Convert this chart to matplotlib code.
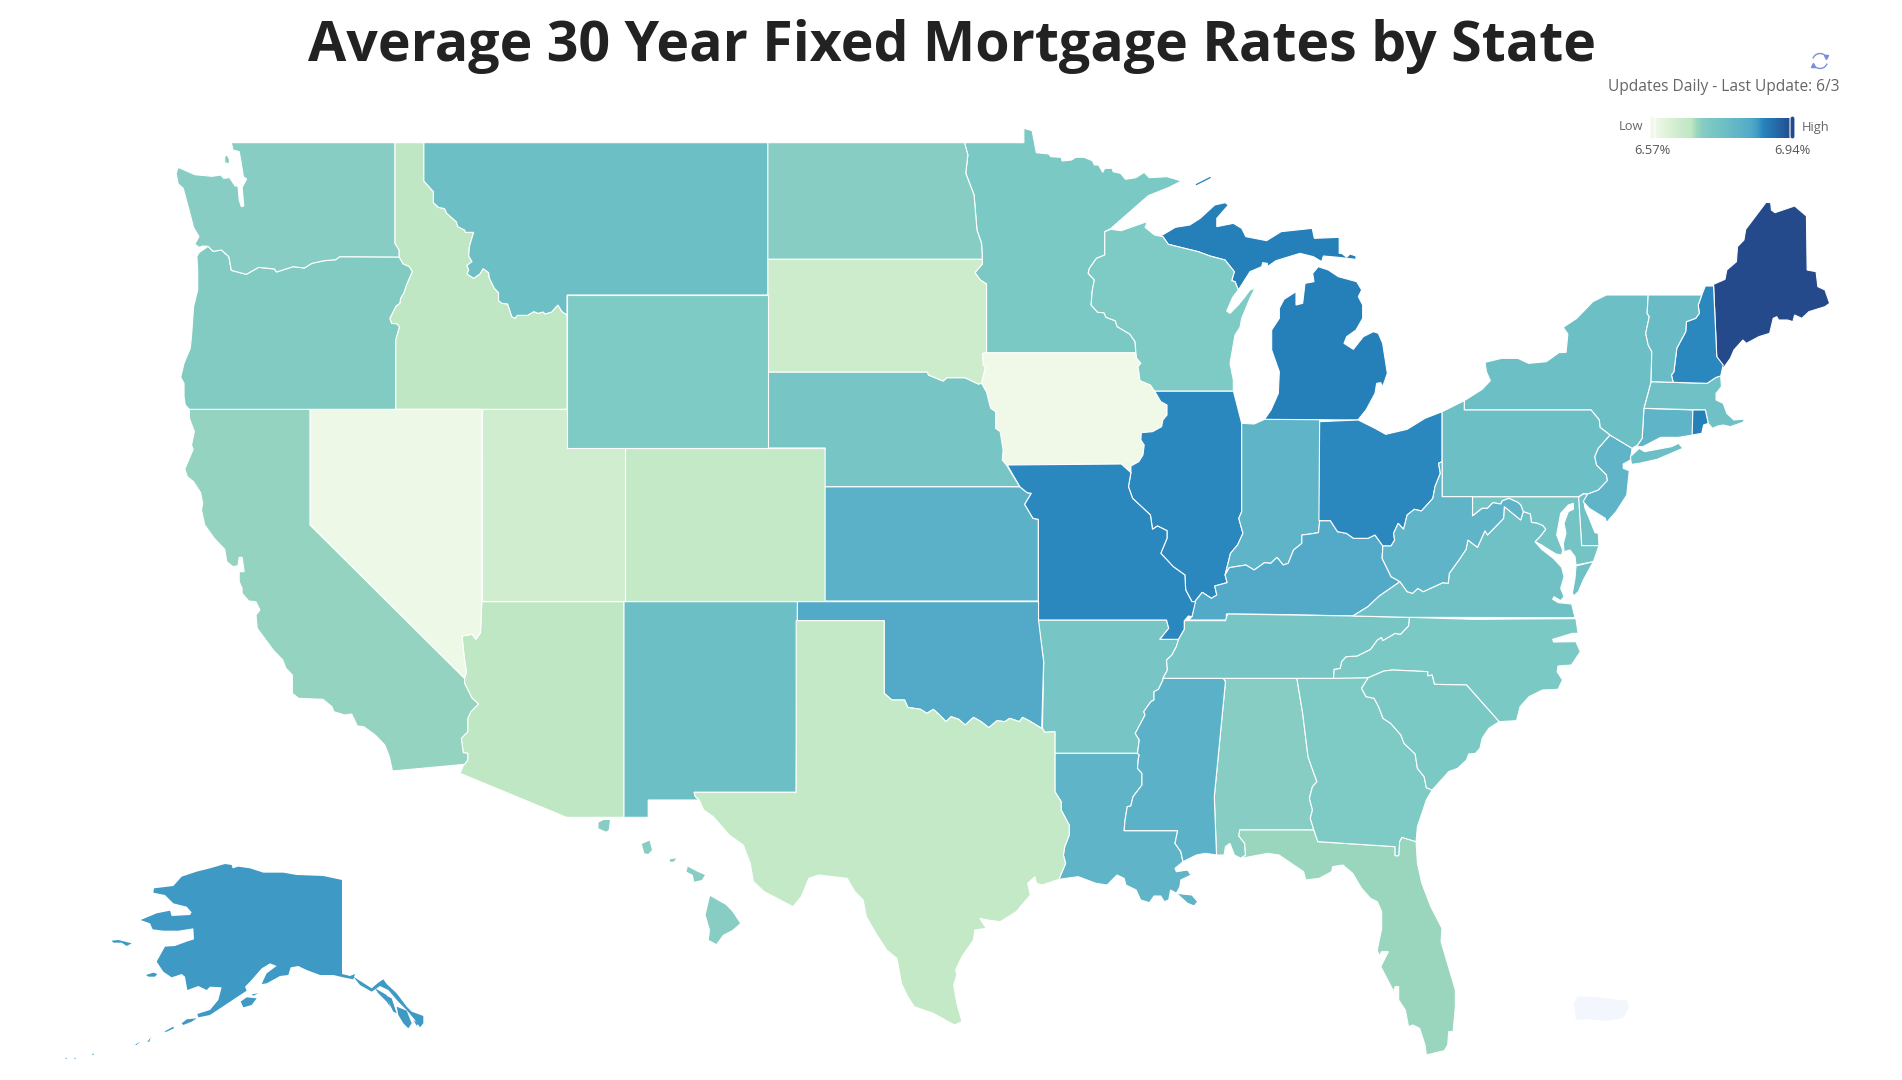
# -*- coding: utf-8 -*-
import numpy as np
import matplotlib
matplotlib.use('Agg')
import matplotlib.pyplot as plt
from matplotlib.colors import LinearSegmentedColormap, Normalize
from matplotlib.patches import Polygon, Arc, FancyBboxPatch

plt.rcParams['font.family'] = ['Open Sans', 'Noto Sans', 'DejaVu Sans']


def crop(x0, y0, sx, sy=3.0):
    return lambda pts: [(x0 + x / sx, y0 + y / sy) for x, y in pts]


A = crop(150, 110, 2.41)
B = crop(750, 110, 2.41)
C = crop(1300, 190, 2.8)
D = crop(1000, 600, 2.24)
E = crop(50, 600, 1.568)
F = crop(50, 860, 3.0)
G = crop(1540, 480, 3.0)
H = crop(1190, 240, 3.0)

state_names = ['AK', 'AL', 'AR', 'AZ', 'CA', 'CO', 'CT', 'DE', 'FL', 'GA', 'HI', 'IA', 'ID', 'IL', 'IN', 'KS', 'KY',
               'LA', 'MA', 'MD', 'ME', 'MI', 'MN', 'MO', 'MS', 'MT', 'NC', 'ND', 'NE', 'NH', 'NJ', 'NM', 'NV', 'NY',
               'OH', 'OK', 'OR', 'PA', 'RI', 'SC', 'SD', 'TN', 'TX', 'UT', 'VA', 'VT', 'WA', 'WI', 'WV', 'WY']
state_rates = [6.85, 6.70, 6.73, 6.67, 6.69, 6.66, 6.80, 6.75, 6.685, 6.715, 6.70, 6.57, 6.67, 6.86, 6.80, 6.81, 6.83,
               6.80, 6.75, 6.74, 6.94, 6.87, 6.72, 6.86, 6.81, 6.76, 6.72, 6.70, 6.73, 6.86, 6.80, 6.76, 6.575, 6.76,
               6.86, 6.83, 6.71, 6.76, 6.87, 6.72, 6.64, 6.73, 6.66, 6.63, 6.75, 6.77, 6.70, 6.715, 6.80, 6.715]

rate_stops = [6.57, 6.63, 6.67, 6.685, 6.70, 6.72, 6.76, 6.81, 6.83, 6.85, 6.86, 6.87, 6.94]
stop_colors = ['#f0f9e8', '#d0edcf', '#bfe7c4', '#9ad6be', '#88cdc3', '#7bc9c4', '#6dbfc6', '#5bb1c8', '#52aac8',
               '#3e9ac4', '#2b88bf', '#2580ba', '#254a8c']
rate_min = 6.57
rate_max = 6.94

title_text = 'Average 30 Year Fixed Mortgage Rates by State'
update_text = 'Updates Daily - Last Update: 6/3'
legend_low = 'Low'
legend_high = 'High'
legend_min_label = '6.57%'
legend_max_label = '6.94%'

# shared borders
wa_or = A([(600, 441), (457, 440), (448, 449), (420, 452), (390, 460), (372, 474), (345, 470), (305, 486), (300, 477),
           (262, 472), (232, 493), (196, 481), (190, 440), (172, 420), (152, 424), (140, 409)])
or_id = A([(600, 441), (610, 462), (625, 470), (632, 485), (618, 525), (612, 548), (604, 565), (602, 580), (593, 588),
           (578, 625), (582, 640), (595, 642), (601, 650), (592, 690), (592, 898)])
id_mt = A([(660, 98), (660, 213), (683, 245), (683, 278), (695, 292), (710, 296), (715, 310), (738, 335), (742, 350),
           (758, 360), (760, 367), (780, 367), (770, 408), (768, 438), (776, 455), (764, 466), (768, 480), (764, 492),
           (780, 505), (795, 492), (803, 476), (816, 488), (818, 505), (830, 535), (840, 548), (840, 572), (848, 580),
           (862, 582), (872, 620), (880, 625), (885, 616), (910, 616), (925, 605), (935, 610), (948, 606), (952, 612),
           (968, 606), (983, 585), (993, 605), (1005, 615)])
az_ca = E([(650, 235), (650, 250), (662, 295), (672, 312), (660, 335), (655, 355), (655, 395), (645, 415), (648, 458),
           (655, 460), (655, 480), (650, 493)])
nv_az = E([(677, 5), (675, 98), (668, 118), (662, 103), (646, 108), (650, 180), (653, 215), (650, 235)])
red_river = E([(1308, 280), (1320, 300), (1340, 300), (1345, 322), (1365, 328), (1375, 340), (1385, 328), (1395, 345),
               (1405, 365), (1413, 350), (1425, 358), (1435, 375), (1448, 352), (1460, 365), (1472, 383), (1485, 362),
               (1497, 365), (1505, 355), (1520, 365), (1525, 352), (1535, 362), (1555, 385)])
sd_mn = B([(560, 448), (560, 462), (542, 488), (555, 510), (570, 522), (570, 728)])
nd_mn = B([(517, 98), (525, 135), (520, 190), (540, 255), (547, 360), (558, 400), (560, 448)])
sd_ia = B([(570, 728), (560, 730), (562, 765), (567, 772), (558, 820)])
ne_ia = B([(558, 820), (570, 846), (580, 895), (592, 905), (592, 955), (603, 965), (610, 1020), (608, 1050), (618, 1065)])
sd_ne = B([(558, 820), (550, 822), (518, 803), (475, 803), (465, 813), (430, 795), (428, 786)])
mn_wi = B([(855, 365), (855, 435), (835, 445), (818, 475), (815, 490), (830, 510), (825, 540), (822, 585), (838, 607),
           (853, 608), (858, 622), (880, 632), (885, 650), (915, 672), (928, 695), (930, 728)])
ia_wi = B([(930, 728), (932, 745), (942, 760), (935, 770), (940, 812), (965, 825), (975, 843)])
ia_il = B([(975, 843), (990, 875), (1005, 885), (1005, 915), (995, 930), (992, 950), (970, 965), (943, 968), (942, 990),
           (950, 1005), (947, 1035), (937, 1055), (918, 1068), (918, 1088)])
mo_il = B([(918, 1088), (912, 1130), (922, 1165), (965, 1215), (970, 1258), (982, 1248), (1005, 1262), (1005, 1285),
           (990, 1330), (1020, 1370), (1048, 1395), (1050, 1440), (1065, 1475), (1072, 1475)])
il_in = B([(1185, 940), (1185, 1205), (1178, 1225), (1188, 1270), (1175, 1305), (1158, 1330), (1145, 1395)])
il_ky = B([(1145, 1395), (1150, 1418), (1120, 1428), (1125, 1455), (1112, 1465), (1090, 1447), (1072, 1475)])
in_ky = B([(1373, 1232), (1370, 1268), (1350, 1272), (1330, 1275), (1330, 1300), (1310, 1320), (1297, 1360),
           (1285, 1365), (1270, 1342), (1255, 1360), (1240, 1358), (1215, 1380), (1195, 1365), (1155, 1373), (1145, 1395)])
wi_up = B([(995, 380), (1008, 403), (1080, 425)]) + H([(60, 48), (105, 60), (133, 95), (125, 122), (135, 125), (145, 150)])
oh_ky = C([(232, 1068), (210, 1035), (190, 1045), (150, 1045), (130, 1030), (105, 1025), (85, 992), (53, 992)])
oh_wv = C([(232, 1068), (255, 1068), (265, 1050), (262, 1030), (275, 1000), (290, 1018), (300, 975), (320, 958),
           (340, 963), (372, 925), (378, 890), (393, 850), (388, 820), (398, 815)])
ky_wv = C([(232, 1068), (230, 1105), (255, 1160), (280, 1175)])
ky_va = C([(280, 1175), (222, 1218), (190, 1250), (148, 1278)])
va_wv = C([(280, 1175), (300, 1205), (315, 1210), (330, 1195), (345, 1205), (400, 1178), (415, 1180), (418, 1150),
           (445, 1110), (465, 1078), (470, 1050), (497, 1072), (518, 1022), (525, 1035), (570, 985), (572, 950),
           (618, 990), (625, 965)])
md_wv = C([(483, 978), (510, 955), (525, 955), (540, 938), (562, 942), (567, 932), (585, 925), (610, 937), (618, 945),
           (625, 965)])
md_va = C([(625, 965), (645, 972), (648, 997), (665, 1000), (680, 1007), (688, 1018), (672, 1040), (658, 1055)])
pa_nj = C([(868, 735), (835, 775), (825, 800), (830, 825), (858, 855), (860, 872), (835, 900), (805, 912)])
ny_pa = C([(460, 660), (815, 660), (838, 690), (840, 712), (868, 735)])
ny_vt = C([(975, 315), (972, 370), (978, 380), (968, 430), (975, 465), (985, 485), (983, 575)])
vt_nh = C([(1125, 315), (1115, 345), (1118, 370), (1108, 385), (1082, 395), (1080, 425), (1055, 475), (1047, 545),
           (1040, 555), (1045, 577)])
nh_ma = C([(1045, 577), (1140, 580), (1165, 562), (1178, 558)])
tn_nc = D([(917, 52), (915, 78), (897, 103), (885, 100), (857, 122), (855, 112), (845, 120), (830, 148), (800, 168),
           (775, 170), (765, 185), (762, 205), (748, 208), (747, 235)])
nc_sc = D([(825, 233), (860, 213), (880, 210), (958, 215), (958, 228), (968, 225), (973, 253), (1045, 255), (1118, 365)])
ga_sc = D([(825, 233), (810, 265), (820, 290), (838, 295), (848, 320), (858, 355), (875, 370), (898, 405), (905, 430),
           (930, 462), (935, 505), (950, 530), (955, 563), (968, 570)])
al_ga = D([(665, 235), (678, 340), (690, 470), (703, 520), (710, 545), (700, 560), (693, 595), (700, 630), (695, 655),
           (703, 690)])
fl_ga = D([(703, 690), (712, 725), (885, 740), (885, 767), (893, 767), (895, 725), (900, 712), (932, 725)])
al_fl = D([(703, 690), (537, 690), (535, 708), (548, 730), (550, 765), (540, 775)])
mo_ar = D([(438, 5), (430, 50), (422, 48), (413, 62), (413, 88), (400, 118), (358, 118), (378, 85), (373, 60), (85, 60)])
ar_tn = D([(400, 118), (395, 140), (385, 165), (373, 180), (375, 210), (365, 235)])
ar_ms = D([(365, 235), (365, 240), (355, 268), (345, 275), (345, 300), (338, 305), (322, 335), (325, 345), (303, 400),
           (312, 420), (308, 460)])
la_ms = D([(308, 460), (312, 465), (310, 475), (308, 505), (318, 520), (318, 555), (298, 590), (293, 618), (285, 620),
           (280, 662), (278, 692), (398, 692), (392, 730), (405, 755), (410, 785)])
tx_la = D([(123, 460), (123, 575), (137, 605), (137, 630), (155, 675), (155, 705), (145, 740), (142, 765), (147, 790),
           (132, 838)])
ks_mo = B([(620, 1065), (650, 1130), (668, 1148), (678, 1150), (662, 1183), (682, 1225), (695, 1228), (695, 1473)])

state_outlines = {
    'WA': [wa_or + A([(128, 408), (118, 412), (108, 402), (118, 380), (105, 352), (92, 290), (80, 235), (68, 222),
                      (63, 190), (68, 172), (108, 194), (150, 199), (170, 195), (178, 205), (192, 203), (205, 228),
                      (212, 228), (215, 270), (220, 290), (226, 288), (222, 232), (233, 207), (225, 200), (220, 160),
                      (215, 125), (200, 120), (196, 98), (590, 98), (590, 400), (600, 420)]),
           A([(180, 140), (186, 134), (192, 150), (190, 162), (180, 158)])],
    'OR': [wa_or + A([(118, 428), (113, 440), (115, 480), (115, 540), (105, 590), (100, 680), (97, 715), (82, 760),
                      (74, 802), (82, 820), (82, 860), (85, 885), (95, 898)]) + or_id[::-1]],
    'ID': [id_mt + A([(1005, 898), (592, 898)]) + or_id[::-1][1:] + A([(600, 420), (590, 400), (590, 98)])],
    'MT': [A([(660, 98), (1490, 98), (1490, 555), (1005, 555)]) + id_mt[::-1]],
    'WY': [A([(1005, 555), (1490, 555), (1490, 1014), (1005, 1014)])],
    'UT': [A([(800, 898), (1005, 898), (1005, 1014), (1145, 1014), (1145, 1473), (800, 1473)])],
    'CO': [A([(1145, 1014), (1490, 1014)]) + B([(181, 1014), (181, 1473)]) + A([(1145, 1473)])],
    'NV': [A([(386, 898), (800, 898)]) + nv_az + A([(386, 1245)])],
    'CA': [A([(95, 898), (95, 925), (107, 965), (100, 1005), (104, 1018), (84, 1077), (90, 1100), (105, 1115),
              (122, 1148), (127, 1180), (124, 1200), (132, 1245), (155, 1285), (180, 1318), (185, 1355), (200, 1370),
              (212, 1367), (215, 1342), (222, 1342), (227, 1385), (215, 1385), (215, 1415), (222, 1435), (222, 1450),
              (238, 1473), (255, 1475), (265, 1500)])
           + E([(323, 45), (325, 85), (350, 150), (365, 180), (370, 205), (380, 225), (380, 280), (390, 295),
                (428, 298), (442, 320), (445, 335), (462, 345), (473, 342), (482, 378), (492, 380), (510, 405),
                (525, 435), (532, 470), (537, 513)])
           + az_ca[::-1] + A([(386, 1245), (386, 898), (592, 898)])],
    'AZ': [E([(677, 5), (900, 5), (900, 652), (810, 652), (643, 520), (648, 497)]) + az_ca[::-1] + nv_az[::-1][1:]],
    'NM': [E([(900, 5), (1172, 5), (1170, 577), (1010, 577), (1012, 590), (1018, 600), (938, 600), (938, 652), (900, 652)])],
    'TX': [E([(1170, 62), (1308, 62)]) + red_river
           + D([(95, 385), (100, 397), (123, 395)]) + tx_la
           + D([(95, 855), (82, 850), (78, 830), (62, 850), (68, 885)])
           + E([(1515, 935), (1490, 965), (1470, 960), (1458, 955), (1468, 985), (1450, 990), (1448, 1020),
                (1430, 1070), (1420, 1110), (1422, 1125), (1417, 1155), (1422, 1210), (1430, 1265), (1418, 1275),
                (1385, 1240), (1355, 1220), (1345, 1190), (1335, 1150), (1328, 1075), (1312, 1050), (1295, 1000),
                (1280, 950), (1275, 900), (1262, 875), (1250, 835), (1205, 825), (1190, 835), (1178, 890), (1165, 920),
                (1150, 905), (1120, 875), (1103, 845), (1098, 790), (1087, 735), (1065, 705), (1040, 650), (1025, 630),
                (1018, 600), (1012, 590), (1010, 577), (1170, 577)])],
    'OK': [E([(1172, 5), (1550, 5), (1550, 60), (1558, 185)]) + red_river[::-1] + E([(1308, 62), (1172, 62)])],
    'KS': [B([(181, 1130), (650, 1130)]) + ks_mo[1:] + B([(181, 1473)])],
    'NE': [B([(43, 786)]) + sd_ne[::-1] + ne_ia[1:] + B([(650, 1130), (181, 1130), (181, 1014), (43, 1014)])],
    'SD': [B([(43, 448)]) + sd_mn + sd_ia[1:] + sd_ne[1:] + B([(43, 786)])],
    'ND': [B([(43, 98)]) + nd_mn + B([(43, 448)])],
    'MN': [B([(517, 98), (660, 98), (660, 55), (680, 62), (690, 128), (720, 132), (725, 140), (750, 142), (752, 153),
              (775, 150), (785, 142), (805, 142), (825, 152), (830, 165), (840, 165), (850, 187), (855, 175), (873, 175),
              (875, 185), (893, 190), (905, 208), (930, 203), (950, 187), (962, 203), (1005, 200), (1040, 213),
              (1010, 232), (960, 257), (925, 295), (870, 355)]) + mn_wi + sd_mn[::-1] + nd_mn[::-1][1:]],
    'WI': [B([(870, 358), (895, 362), (945, 340), (958, 335), (952, 352), (975, 375)]) + wi_up
           + H([(128, 172), (110, 213), (120, 220), (145, 195), (165, 170), (180, 150), (195, 145), (180, 175),
                (155, 235), (150, 262), (135, 285), (120, 370), (130, 420), (130, 453)])
           + ia_wi[::-1] + mn_wi[::-1]],
    'IA': [B([(570, 728)]) + ia_wi + ia_il + B([(895, 1062), (618, 1065)]) + ne_ia[::-1] + sd_ia[::-1][:-1]],
    'MO': [B([(618, 1065), (895, 1062)]) + mo_il + mo_ar + ks_mo[::-1]],
    'IL': [B([(975, 843), (1165, 843)]) + il_in + il_ky + mo_il[::-1] + ia_il[::-1]],
    'IN': [il_in[:1] + B([(1215, 942), (1240, 928), (1373, 928)]) + in_ky + il_in[::-1]],
    'OH': [C([(55, 695), (163, 690), (210, 715), (240, 733), (300, 718), (350, 685), (398, 665)]) + oh_wv[::-1] + oh_ky],
    'MI': [B([(1240, 928), (1465, 930)])
           + H([(528, 510), (555, 460), (560, 430), (572, 428), (578, 440), (592, 400), (578, 310), (565, 280),
                (550, 275), (520, 290), (490, 328), (462, 310), (470, 290), (498, 270), (518, 235), (518, 195),
                (505, 170), (515, 150), (500, 125), (445, 110), (415, 90), (385, 80), (368, 100), (372, 125),
                (345, 130), (338, 190), (318, 195), (318, 155), (282, 178), (268, 205), (268, 235), (245, 270),
                (245, 330), (268, 395), (265, 460), (243, 510)]),
           B([(990, 378), (1025, 352), (1060, 345), (1085, 325), (1120, 285), (1145, 278), (1153, 285), (1125, 325),
              (1125, 350), (1165, 340), (1185, 355), (1195, 380), (1245, 392), (1280, 365), (1355, 355), (1360, 385),
              (1420, 382), (1420, 430)])
           + H([(455, 40), (470, 52), (480, 42), (498, 48), (498, 58), (470, 55), (445, 52), (400, 48), (395, 65),
                (370, 50), (330, 40), (258, 62), (232, 80), (232, 70), (218, 68), (215, 80), (180, 95)])
           + wi_up[::-1],
           B([(1072, 222), (1110, 198), (1112, 205), (1075, 228)])],
    'KY': [oh_ky + in_ky + il_ky[1:] + D([(430, 50), (422, 60), (507, 60), (507, 42), (600, 43), (793, 48)])
           + ky_va[::-1] + ky_wv[::-1]],
    'WV': [oh_wv + C([(398, 920), (483, 920)]) + md_wv + va_wv[::-1] + ky_wv[::-1]],
    'VA': [ky_va + C([(305, 1282), (770, 1283)])
           + G([(95, 372), (55, 368), (38, 358), (42, 350), (62, 362), (72, 350), (62, 325), (72, 290), (65, 262),
                (40, 235), (5, 208)]) + md_va[::-1] + va_wv[::-1],
           G([(108, 258), (160, 245), (130, 300), (115, 335), (102, 347), (97, 340), (105, 295)])],
    'MD': [C([(483, 920), (780, 920)])
           + G([(125, 197), (177, 197), (160, 245), (108, 255), (105, 230), (90, 210), (72, 215), (70, 190), (78, 160),
                (72, 130), (85, 95), (100, 88), (100, 70), (85, 75), (62, 100), (50, 165), (68, 210), (65, 225),
                (48, 222), (20, 205), (5, 195)]) + md_va[::-1] + md_wv[::-1]],
    'DE': [G([(115, 52), (130, 42), (148, 42), (132, 65), (135, 85), (150, 120), (165, 158), (175, 160), (177, 197), (125, 197)])],
    'NJ': [pa_nj + C([(793, 935), (810, 955), (855, 985), (858, 998), (885, 965), (915, 915), (922, 842), (905, 835),
                      (905, 822), (925, 810), (930, 775)])],
    'PA': [C([(398, 665), (460, 632)]) + ny_pa + pa_nj[1:] + C([(795, 910), (780, 920), (398, 920)])],
    'NY': [C([(460, 632), (510, 598), (533, 572), (522, 545), (518, 517), (565, 505), (610, 505), (640, 520), (690, 515),
              (725, 488), (745, 487), (750, 432), (737, 412), (775, 385), (820, 335), (858, 315)]) + ny_vt
           + C([(963, 655), (958, 745), (945, 765), (930, 775)]) + ny_pa[::-1],
           C([(925, 800), (950, 775), (965, 785), (1040, 770), (1060, 760), (1072, 775), (1000, 808), (950, 820), (928, 823)])],
    'CT': [C([(963, 655), (1100, 660), (1100, 735), (1060, 742), (1010, 742), (960, 770), (947, 770), (945, 765), (958, 745)])],
    'RI': [C([(1100, 660), (1135, 660), (1143, 700), (1130, 705), (1125, 730), (1098, 735)])],
    'MA': [C([(983, 575)]) + nh_ma + C([(1180, 590), (1165, 610), (1165, 630), (1185, 640), (1195, 670), (1215, 690),
                                        (1245, 687), (1240, 697), (1205, 710), (1185, 705), (1170, 708), (1155, 715),
                                        (1143, 700), (1135, 660), (963, 655)])],
    'VT': [C([(975, 315)]) + vt_nh + C([(983, 575)]) + ny_vt[::-1][1:]],
    'NH': [C([(1135, 288), (1158, 288), (1167, 500), (1185, 525)]) + nh_ma[::-1] + vt_nh[::-1]],
    'ME': [C([(1158, 283), (1190, 268), (1195, 240), (1222, 215), (1225, 170), (1243, 150), (1248, 118), (1305, 37),
              (1318, 38), (1320, 60), (1330, 68), (1385, 48), (1418, 78), (1420, 240), (1445, 245), (1450, 290),
              (1470, 300), (1483, 340), (1470, 350), (1440, 360), (1425, 365), (1405, 385), (1385, 375), (1380, 395),
              (1365, 390), (1340, 390), (1335, 380), (1325, 385), (1315, 430), (1285, 440), (1250, 460), (1240, 450),
              (1215, 480), (1205, 505), (1185, 535), (1167, 505)])],
    'TN': [D([(413, 62), (505, 62), (510, 42), (793, 48)]) + tn_nc + ar_tn[::-1] + D([(413, 88)])],
    'NC': [D([(917, 52), (1060, 58), (1290, 56), (1295, 100), (1282, 100), (1238, 118), (1240, 126), (1290, 125),
              (1300, 155), (1280, 195), (1250, 198), (1248, 215), (1260, 240), (1250, 268), (1215, 270), (1185, 290),
              (1165, 320), (1157, 362)]) + nc_sc[::-1] + tn_nc[::-1]],
    'SC': [nc_sc + D([(1095, 385), (1080, 415), (1075, 445), (1065, 460), (1050, 462), (1045, 480), (1025, 505),
                      (1005, 515), (985, 545)]) + ga_sc[::-1]],
    'GA': [D([(665, 235)]) + ga_sc + D([(955, 600), (945, 640), (935, 680)]) + fl_ga[::-1] + al_ga[::-1]],
    'AL': [D([(500, 235)]) + al_ga + al_fl[1:] + D([(525, 765), (515, 730), (505, 740), (502, 765), (485, 765), (480, 590), (505, 245)])],
    'FL': [al_fl[::-1] + fl_ga[1:] + D([(935, 790), (945, 850), (965, 920), (990, 985), (988, 1025), (1020, 1170),
                                        (1020, 1220), (1015, 1295), (1005, 1295), (1003, 1335), (995, 1352), (955, 1365),
                                        (952, 1335), (940, 1285), (925, 1275), (915, 1280), (908, 1230), (893, 1200),
                                        (893, 1160), (885, 1160), (882, 1175), (853, 1100), (870, 1055), (855, 1055),
                                        (850, 1068), (845, 1050), (855, 985), (855, 935), (845, 905), (830, 895),
                                        (810, 865), (790, 820), (768, 795), (745, 800), (743, 815), (715, 835),
                                        (685, 840), (680, 815), (625, 765), (600, 760)])],
    'MS': [D([(365, 235), (500, 235), (505, 245), (480, 590), (485, 765), (460, 760), (440, 765)]) + la_ms[::-1] + ar_ms[::-1]],
    'AR': [D([(85, 60)]) + mo_ar[::-1][1:6] + ar_tn + ar_ms[1:] + D([(123, 460), (123, 395), (100, 397), (95, 385), (98, 185)])],
    'LA': [D([(123, 460)]) + la_ms + D([(392, 805), (395, 815), (420, 810), (428, 825), (405, 840), (403, 860),
                                        (395, 880), (430, 885), (443, 905), (435, 918), (420, 910), (395, 880),
                                        (382, 870), (378, 900), (368, 905), (360, 888), (345, 888), (335, 908),
                                        (315, 900), (305, 870), (282, 855), (278, 835), (262, 825), (240, 855),
                                        (215, 850), (175, 830)]) + tx_la[::-1]],
    'AK': [F([(876, 60), (876, 342), (900, 348), (915, 342), (910, 358), (880, 352), (850, 345), (810, 345), (770, 330),
              (745, 318), (722, 322), (715, 345), (690, 348), (650, 370), (635, 372), (650, 340), (680, 318), (660, 310),
              (635, 325), (600, 365), (585, 380), (590, 392), (540, 425), (510, 445), (480, 465), (445, 472), (442, 462),
              (480, 450), (505, 420), (515, 382), (480, 380), (470, 390), (445, 378), (412, 390), (405, 350), (395, 342),
              (365, 352), (340, 335), (320, 305), (345, 260), (375, 258), (410, 245), (432, 238), (430, 205), (385, 212),
              (340, 212), (308, 208), (300, 190), (272, 180), (320, 160), (360, 152), (365, 168), (420, 165), (425, 157),
              (410, 140), (370, 130), (345, 105), (310, 98), (312, 85), (370, 78), (395, 50), (440, 35), (480, 25),
              (525, 12), (545, 15), (548, 25), (565, 20), (600, 25), (640, 38), (700, 38), (740, 45), (820, 48)]),
           F([(910, 350), (965, 385), (985, 368), (1000, 358), (1010, 372), (1040, 400), (1070, 440), (1085, 455),
              (1120, 468), (1120, 490), (1110, 502), (1095, 480), (1070, 450), (1045, 425), (1015, 390), (990, 378),
              (965, 395), (930, 375)]),
           F([(975, 385), (1010, 405), (1020, 440), (1010, 425), (985, 400)]),
           F([(1005, 405), (1025, 415), (1040, 460), (1030, 455)]),
           F([(1040, 440), (1070, 452), (1085, 490), (1075, 505), (1060, 490), (1045, 465)]),
           F([(1090, 480), (1105, 490), (1100, 497)]),
           F([(395, 490), (410, 478), (440, 475), (425, 485), (400, 495)]),
           F([(342, 515), (370, 500), (372, 505), (350, 515)]),
           F([(572, 425), (590, 412), (620, 415), (605, 435), (580, 442)]),
           F([(605, 403), (625, 400), (610, 407)]),
           F([(185, 242), (205, 240), (245, 250), (230, 258), (215, 248), (190, 248)]),
           F([(288, 345), (310, 338), (322, 342), (315, 350), (295, 350)]),
           F([(255, 555), (270, 545), (260, 555)]),
           F([(292, 545), (302, 533), (298, 545)]),
           F([(45, 595), (50, 593), (50, 597)]),
           F([(72, 595), (78, 593), (76, 597)]),
           F([(125, 583), (132, 580), (130, 585)])],
    'HI': [E([(1035, 888), (1060, 915), (1070, 935), (1082, 970), (1070, 990), (1055, 1005), (1045, 1032), (1033, 1020),
              (1035, 990), (1028, 945)]),
           E([(1000, 800), (1015, 815), (1027, 825), (1022, 840), (1010, 845), (1008, 825), (998, 815)]),
           E([(928, 732), (940, 722), (944, 750), (938, 762), (932, 760)]),
           E([(860, 668), (868, 660), (878, 660), (876, 690), (872, 695), (860, 685)]),
           E([(972, 778), (982, 775), (978, 785), (972, 785)])],
}
# no rate for Puerto Rico, drawn in the map's empty colour
pr_outline = D([(1295, 1188), (1340, 1192), (1405, 1202), (1408, 1225), (1395, 1255), (1360, 1262), (1310, 1258),
                (1290, 1260), (1285, 1210)])

norm = Normalize(rate_min, rate_max)
cmap = LinearSegmentedColormap.from_list('rates', [(float(norm(r)), c) for r, c in zip(rate_stops, stop_colors)], N=512)

fig = plt.figure(figsize=(19.02, 10.8), dpi=100)
ax = fig.add_axes([0, 0, 1, 1])

for name, rate in zip(state_names, state_rates):
    for part in state_outlines[name]:
        # Alaska's small islands would vanish under a white edge
        lw = 0 if name in ('AK', 'HI') else 0.8
        ax.add_patch(Polygon(part, closed=True, facecolor=cmap(norm(rate)), edgecolor='white', linewidth=lw))
ax.add_patch(Polygon(pr_outline, closed=True, facecolor='#f3f7fd', edgecolor='none'))

ax.text(952, 47, title_text, ha='center', va='center', fontsize=40, fontweight='bold', color='#222222')
ax.text(1724, 87, update_text, ha='center', va='center', fontsize=11.2, color='#666666')

# visual map legend
ax.imshow(np.linspace(rate_min, rate_max, 256)[None, :], aspect='auto', cmap=cmap, norm=norm,
          extent=(1654, 1792, 138, 118), zorder=3)
for hx, hc in [(1652.5, '#f0f9e8'), (1792.5, '#254a8c')]:
    ax.add_patch(FancyBboxPatch((hx - 2.5, 116), 5, 23, boxstyle='round,pad=0,rounding_size=2.5', facecolor=hc,
                                edgecolor='white', linewidth=0.8, zorder=5))
ax.text(1631, 127, legend_low, ha='center', va='center', fontsize=9.3, color='#666666')
ax.text(1816, 127, legend_high, ha='center', va='center', fontsize=9.3, color='#666666')
ax.text(1652, 151, legend_min_label, ha='center', va='center', fontsize=9.3, color='#555555')
ax.text(1792, 151, legend_max_label, ha='center', va='center', fontsize=9.3, color='#555555')

# refresh icon
icon = '#7b8fd8'
ax.add_patch(Arc((1820, 61), 15, 15, theta1=200, theta2=330, color=icon, lw=1.0))
ax.add_patch(Arc((1820, 61), 15, 15, theta1=20, theta2=150, color=icon, lw=1.0))
ax.plot([1826], [57], marker='v', ms=3, color=icon)
ax.plot([1813], [65], marker='^', ms=3, color=icon)

ax.set_xlim(0, 1902)
ax.set_ylim(1080, 0)
ax.axis('off')

fig.savefig('out.png', dpi=100, facecolor='white')
